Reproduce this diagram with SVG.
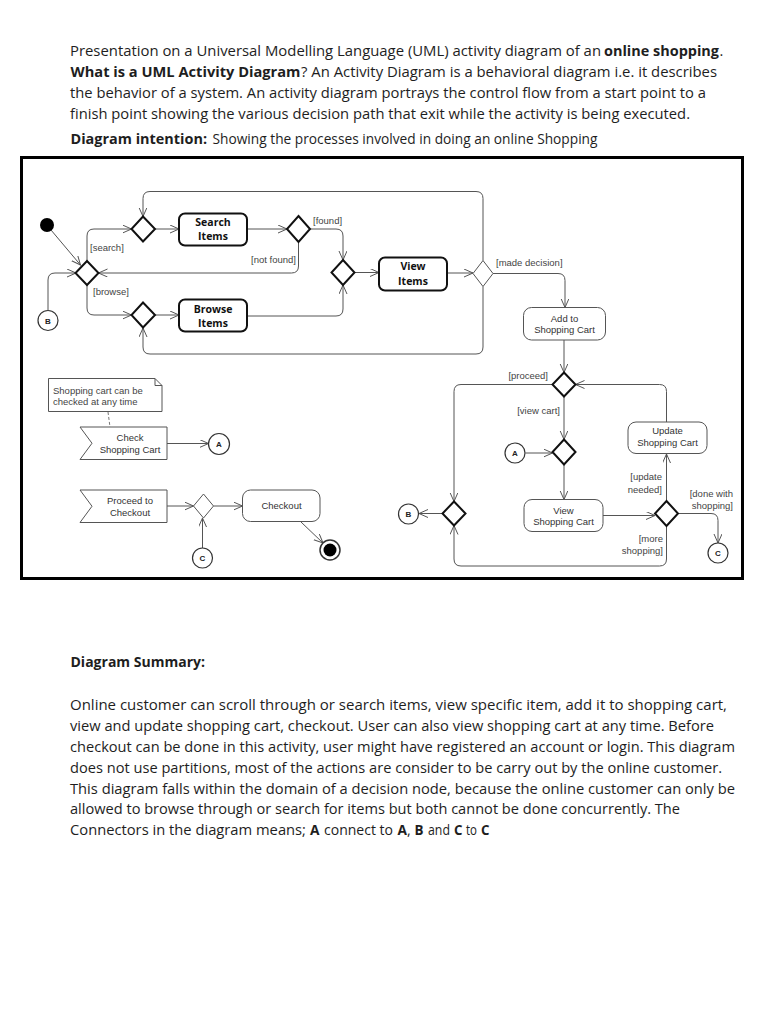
<svg xmlns="http://www.w3.org/2000/svg" width="768" height="1024" viewBox="0 0 768 1024">
<defs>
<marker id="arr" markerUnits="userSpaceOnUse" markerWidth="12" markerHeight="12" refX="9" refY="4" orient="auto">
<path d="M0,0 L9,4 L0,8" fill="none" stroke="#555" stroke-width="1"/>
</marker>
<style>
.body{font-family:"Open Sans","Noto Sans",sans-serif;font-size:14.5px;fill:#1e1e1e}
.b{font-weight:bold}
.ln{fill:none;stroke:#555;stroke-width:1;marker-end:url(#arr)}
.dash{fill:none;stroke:#777;stroke-width:1;stroke-dasharray:3,2}
.bd{fill:#fff;stroke:#111;stroke-width:2}
.td{fill:#fff;stroke:#555;stroke-width:1}
.bbox{fill:#fff;stroke:#111;stroke-width:2}
.tbox{fill:#fff;stroke:#555;stroke-width:1}
.bl{font-family:"Open Sans","Noto Sans",sans-serif;font-size:10.5px;font-weight:bold;fill:#111;text-anchor:middle}
.nl{font-family:"Liberation Sans",Arial,sans-serif;font-size:9.5px;fill:#333;text-anchor:middle}
.lb{font-family:"Liberation Sans",Arial,sans-serif;font-size:9.5px;fill:#444}
.e{text-anchor:end}
.con{fill:#fff;stroke:#333;stroke-width:1.2}
.cl{font-family:"Liberation Sans",Arial,sans-serif;font-size:8px;font-weight:bold;fill:#222;text-anchor:middle}
</style>
</defs>
<rect width="768" height="1024" fill="#fff"/>

<g id="intro" class="body">
<text x="70" y="56" textLength="531" lengthAdjust="spacingAndGlyphs">Presentation on a Universal Modelling Language (UML) activity diagram of an</text>
<text x="604" y="56" class="b" textLength="115" lengthAdjust="spacingAndGlyphs">online shopping</text>
<text x="719.5" y="56">.</text>
<text x="70.5" y="77" class="b" textLength="230" lengthAdjust="spacingAndGlyphs">What is a UML Activity Diagram</text>
<text x="301" y="77" textLength="416" lengthAdjust="spacingAndGlyphs">? An Activity Diagram is a behavioral diagram i.e. it describes</text>
<text x="70" y="98" textLength="636" lengthAdjust="spacingAndGlyphs">the behavior of a system. An activity diagram portrays the control flow from a start point to a</text>
<text x="70" y="119" textLength="620" lengthAdjust="spacingAndGlyphs">finish point showing the various decision path that exit while the activity is being executed.</text>
<text x="70.5" y="143.5" class="b" textLength="136.5" lengthAdjust="spacingAndGlyphs">Diagram intention:</text>
<text x="212.5" y="143.5" textLength="385" lengthAdjust="spacingAndGlyphs">Showing the processes involved in doing an online Shopping</text>
</g>

<rect id="frame" x="21.5" y="157.5" width="721" height="421" fill="none" stroke="#000" stroke-width="3"/>

<g id="connectors">
<line class="ln" x1="51" y1="230" x2="80.5" y2="265"/>
<path class="ln" d="M48,310 V280 Q48,273 55,273 H76"/>
<path class="ln" d="M87,261 V236 Q87,229 94,229 H131.5"/>
<path class="ln" d="M87,285 V308 Q87,315 94,315 H131.5"/>
<path class="ln" d="M155,229 H179"/>
<path class="ln" d="M155,315 H179"/>
<path class="ln" d="M247,229 H287"/>
<path class="ln" d="M298.5,242 V266 Q298.5,273 291.5,273 H98.5"/>
<path class="ln" d="M310,229 H336 Q343,229 343,236 V260"/>
<path class="ln" d="M247,316 H336 Q343,316 343,309 V285"/>
<path class="ln" d="M354.5,272.5 H379"/>
<path class="ln" d="M447,273 H473"/>
<path class="ln" d="M483,260.5 V198.5 Q483,191.5 476,191.5 H150 Q143,191.5 143,198.5 V216.5"/>
<path class="ln" d="M483,286.5 V347 Q483,354 476,354 H150 Q143,354 143,347 V328"/>
<path class="ln" d="M493,273.5 H558 Q565,273.5 565,280.5 V307.5"/>
<path class="ln" d="M564,340 V372.5"/>
<path class="ln" d="M552.5,384.5 H461 Q454,384.5 454,391.5 V501.5"/>
<path class="ln" d="M564,396.5 V439.5"/>
<path class="ln" d="M525.5,453 H552.5"/>
<path class="ln" d="M564,464.5 V499.5"/>
<path class="ln" d="M603,515.5 H655"/>
<path class="ln" d="M666.5,501 V454"/>
<path class="ln" d="M666.5,422 V391.5 Q666.5,384.5 659.5,384.5 H575.5"/>
<path class="ln" d="M678,513.5 H711 Q718,513.5 718,520.5 V543"/>
<path class="ln" d="M666.5,526 V559 Q666.5,566 659.5,566 H461 Q454,566 454,559 V525.5"/>
<path class="ln" d="M442.5,513.5 H419"/>
<path class="ln" d="M167,443.5 H208.5"/>
<path class="ln" d="M167,506 H193.5"/>
<path class="ln" d="M202.5,548 V518"/>
<path class="ln" d="M213.5,506 H242.5"/>
<path class="ln" d="M301,522 L323,543"/>
<path class="dash" d="M108,412 L110,427"/>
</g>

<g id="labels">
<text class="lb" x="90" y="251">[search]</text>
<text class="lb" x="93" y="295">[browse]</text>
<text class="lb e" x="296" y="263">[not found]</text>
<text class="lb" x="313" y="224">[found]</text>
<text class="lb" x="496" y="266">[made decision]</text>
<text class="lb e" x="548" y="379">[proceed]</text>
<text class="lb e" x="560" y="414">[view cart]</text>
<text class="lb e" x="662" y="480">[update</text>
<text class="lb e" x="662" y="493">needed]</text>
<text class="lb e" x="733" y="496.5">[done with</text>
<text class="lb e" x="733" y="508.5">shopping]</text>
<text class="lb e" x="663" y="542">[more</text>
<text class="lb e" x="663" y="554">shopping]</text>
</g>

<g id="start"><circle cx="47" cy="225" r="7" fill="#000"/></g>
<g id="d1"><polygon class="bd" points="87,261 98.5,273 87,285 75.5,273"/></g>
<g id="d2"><polygon class="bd" points="143,216.5 155,229 143,241.5 131.5,229"/></g>
<g id="d3"><polygon class="bd" points="143,302.5 155,315 143,327.5 131.5,315"/></g>
<g id="search-items"><rect class="bbox" x="179" y="213.5" width="68" height="32" rx="6"/><text class="bl" x="213" y="225.5">Search</text><text class="bl" x="213" y="239.5">Items</text></g>
<g id="browse-items"><rect class="bbox" x="179" y="299.5" width="68" height="32" rx="6"/><text class="bl" x="213" y="312.5">Browse</text><text class="bl" x="213" y="327">Items</text></g>
<g id="d4"><polygon class="bd" points="298.5,216 310,229 298.5,242 287,229"/></g>
<g id="d5"><polygon class="bd" points="343,260 354.5,272.5 343,285 331.5,272.5"/></g>
<g id="view-items"><rect class="bbox" x="379" y="257.5" width="68" height="33" rx="6"/><text class="bl" x="413" y="270">View</text><text class="bl" x="413" y="284.5">Items</text></g>
<g id="d6"><polygon class="td" points="483,260.5 493,273.5 483,286.5 473,273.5"/></g>
<g id="add-cart"><rect class="tbox" x="523.5" y="307.5" width="82" height="32.5" rx="8"/><text class="nl" x="564.5" y="321.5">Add to</text><text class="nl" x="564.5" y="333">Shopping Cart</text></g>
<g id="d7"><polygon class="bd" points="564,372.5 575.5,384.5 564,396.5 552.5,384.5"/></g>
<g id="d8"><polygon class="bd" points="454,501.5 465.5,513.5 454,525.5 442.5,513.5"/></g>
<g id="d9"><polygon class="bd" points="564,439.5 575.5,452 564,464.5 552.5,452"/></g>
<g id="view-cart"><rect class="tbox" x="524" y="499.5" width="79" height="32" rx="8"/><text class="nl" x="563.5" y="513.5">View</text><text class="nl" x="563.5" y="525">Shopping Cart</text></g>
<g id="d10"><polygon class="bd" points="666.5,501 678,513.5 666.5,526 655,513.5"/></g>
<g id="update-cart"><rect class="tbox" x="628" y="422" width="79" height="31.5" rx="8"/><text class="nl" x="667.5" y="434">Update</text><text class="nl" x="667.5" y="446">Shopping Cart</text></g>
<g id="conn-b1"><circle class="con" cx="48" cy="320.5" r="10"/><text class="cl" x="48" y="323.5">B</text></g>
<g id="conn-a2"><circle class="con" cx="515" cy="453" r="10"/><text class="cl" x="515" y="456">A</text></g>
<g id="conn-b2"><circle class="con" cx="408.5" cy="514" r="10"/><text class="cl" x="408.5" y="517">B</text></g>
<g id="conn-c2"><circle class="con" cx="718" cy="553" r="10"/><text class="cl" x="718" y="556">C</text></g>

<g id="note"><path class="tbox" d="M48.5,378.5 H155 L162,385.5 V411.5 H48.5 Z"/><path d="M155,378.5 V385.5 H162" fill="none" stroke="#555" stroke-width="1"/>
<text class="lb" x="53" y="393.5">Shopping cart can be</text><text class="lb" x="53" y="405">checked at any time</text></g>
<g id="check-cart"><polygon class="tbox" points="80,427 167,427 167,459.5 80,459.5 92,443.25"/><text class="nl" x="130" y="440.5">Check</text><text class="nl" x="130" y="452.5">Shopping Cart</text></g>
<g id="conn-a1"><circle class="con" cx="219" cy="444" r="10.5"/><text class="cl" x="219" y="447">A</text></g>
<g id="proceed"><polygon class="tbox" points="80,490 167,490 167,522.5 80,522.5 92,506.25"/><text class="nl" x="130" y="504">Proceed to</text><text class="nl" x="130" y="515.5">Checkout</text></g>
<g id="d11"><polygon class="td" points="203.5,494 213.5,506 203.5,518 193.5,506"/></g>
<g id="conn-c1"><circle class="con" cx="202.5" cy="558" r="10"/><text class="cl" x="202.5" y="561">C</text></g>
<g id="checkout"><rect class="tbox" x="242.5" y="490" width="77.5" height="31.5" rx="8"/><text class="nl" x="281.5" y="509">Checkout</text></g>
<g id="final"><circle cx="330" cy="550" r="10" fill="#fff" stroke="#333" stroke-width="1.5"/><circle cx="330" cy="550" r="6.5" fill="#000"/></g>

<g id="summary" class="body">
<text x="70.5" y="667" class="b" textLength="134.5" lengthAdjust="spacingAndGlyphs">Diagram Summary:</text>
<text x="70" y="710" textLength="657" lengthAdjust="spacingAndGlyphs">Online customer can scroll through or search items, view specific item, add it to shopping cart,</text>
<text x="70" y="731" textLength="644" lengthAdjust="spacingAndGlyphs">view and update shopping cart, checkout. User can also view shopping cart at any time. Before</text>
<text x="70" y="752" textLength="665" lengthAdjust="spacingAndGlyphs">checkout can be done in this activity, user might have registered an account or login. This diagram</text>
<text x="70" y="772.5" textLength="652" lengthAdjust="spacingAndGlyphs">does not use partitions, most of the actions are consider to be carry out by the online customer.</text>
<text x="70" y="793.5" textLength="665" lengthAdjust="spacingAndGlyphs">This diagram falls within the domain of a decision node, because the online customer can only be</text>
<text x="70" y="814" textLength="610" lengthAdjust="spacingAndGlyphs">allowed to browse through or search for items but both cannot be done concurrently. The</text>
<text x="70" y="835" textLength="236" lengthAdjust="spacingAndGlyphs">Connectors in the diagram means;</text>
<text x="310" y="835" class="b" textLength="9.5" lengthAdjust="spacingAndGlyphs">A</text>
<text x="324" y="835" textLength="69" lengthAdjust="spacingAndGlyphs">connect to</text>
<text x="397.5" y="835" class="b" textLength="9.5" lengthAdjust="spacingAndGlyphs">A</text>
<text x="407" y="835">,</text>
<text x="414.5" y="835" class="b" textLength="9" lengthAdjust="spacingAndGlyphs">B</text>
<text x="428" y="835" textLength="22" lengthAdjust="spacingAndGlyphs">and</text>
<text x="454" y="835" class="b" textLength="8.5" lengthAdjust="spacingAndGlyphs">C</text>
<text x="466" y="835" textLength="11" lengthAdjust="spacingAndGlyphs">to</text>
<text x="481" y="835" class="b" textLength="8.5" lengthAdjust="spacingAndGlyphs">C</text>
</g>
</svg>
